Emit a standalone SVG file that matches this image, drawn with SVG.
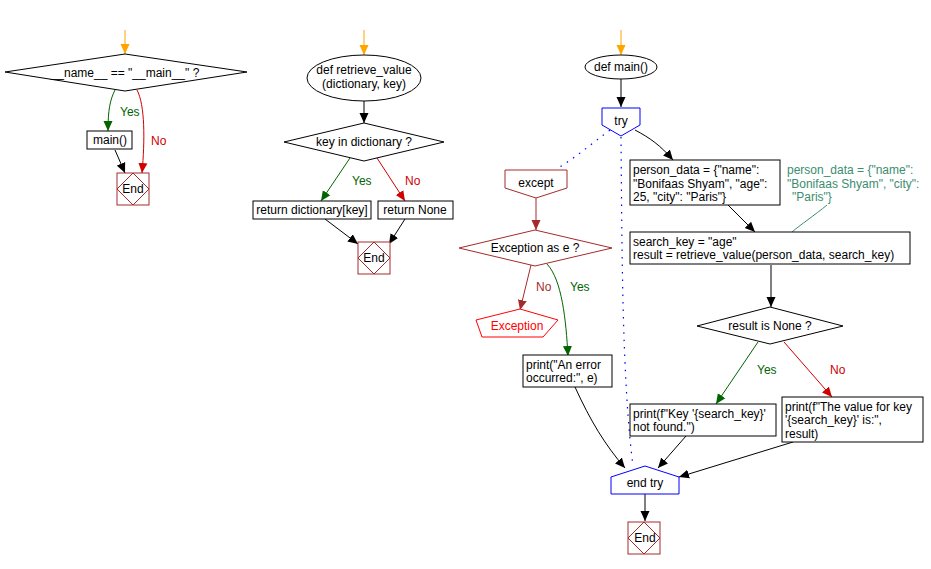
<svg xmlns="http://www.w3.org/2000/svg" width="931" height="569" viewBox="0 0 931 569">
<style>
text{font-family:"Liberation Sans",Arial,sans-serif;font-size:12px;fill:#000}
.c{text-anchor:middle}
.box{fill:#fff;stroke:#000;stroke-width:1}
.dec{fill:#fff;stroke:#000;stroke-width:1}
.endb{fill:#fff;stroke:#a52a2a;stroke-width:1}
.endd{fill:none;stroke:#a52a2a;stroke-width:1}
.blue{fill:#fff;stroke:#0000ff;stroke-width:1}
.brown{fill:#fff;stroke:#a52a2a;stroke-width:1}
.ln{fill:none;stroke:#000;stroke-width:1}
.g{fill:none;stroke:#006400;stroke-width:1}
.r{fill:none;stroke:#d00000;stroke-width:1}
.br{fill:none;stroke:#a52a2a;stroke-width:1}
.o{fill:none;stroke:#ffa500;stroke-width:1}
.cml{fill:none;stroke:#3c8c6e;stroke-width:1}
.dot{fill:none;stroke:#0000ff;stroke-width:1.2;stroke-dasharray:1.5 6}
.gt{fill:#006400}
.rt{fill:#d00000}
.brt{fill:#a52a2a}
.cm{fill:#3c8c6e}
</style>
<defs>
<marker id="ak" viewBox="0 0 10 10" refX="10" refY="5" markerWidth="10" markerHeight="10" markerUnits="userSpaceOnUse" orient="auto"><path d="M0,0.5 L10,5 L0,9.5 Z" fill="#000"/></marker>
<marker id="ag" viewBox="0 0 10 10" refX="10" refY="5" markerWidth="10" markerHeight="10" markerUnits="userSpaceOnUse" orient="auto"><path d="M0,0.5 L10,5 L0,9.5 Z" fill="#006400"/></marker>
<marker id="ar" viewBox="0 0 10 10" refX="10" refY="5" markerWidth="10" markerHeight="10" markerUnits="userSpaceOnUse" orient="auto"><path d="M0,0.5 L10,5 L0,9.5 Z" fill="#d00000"/></marker>
<marker id="ab" viewBox="0 0 10 10" refX="10" refY="5" markerWidth="10" markerHeight="10" markerUnits="userSpaceOnUse" orient="auto"><path d="M0,0.5 L10,5 L0,9.5 Z" fill="#a52a2a"/></marker>
<marker id="ao" viewBox="0 0 10 10" refX="10" refY="5" markerWidth="10" markerHeight="10" markerUnits="userSpaceOnUse" orient="auto"><path d="M0,0.5 L10,5 L0,9.5 Z" fill="#ffa500"/></marker>
</defs>

<g id="connectors">
<path class="o" d="M125,30 L125,54" marker-end="url(#ao)"/>
<path class="g" d="M115,90 C110,100 108,110 108,131" marker-end="url(#ag)"/>
<path class="r" d="M137,90 C145,105 145,140 142,173" marker-end="url(#ar)"/>
<path class="ln" d="M115,150 L125,173" marker-end="url(#ak)"/>
<path class="o" d="M364,30 L364,55" marker-end="url(#ao)"/>
<path class="ln" d="M364,101 L364,123" marker-end="url(#ak)"/>
<path class="g" d="M350,158 L321,201" marker-end="url(#ag)"/>
<path class="r" d="M377,158 L405,201" marker-end="url(#ar)"/>
<path class="ln" d="M325,219 L358,244" marker-end="url(#ak)"/>
<path class="ln" d="M405,219 L389,244" marker-end="url(#ak)"/>
<path class="o" d="M621,30 L621,55" marker-end="url(#ao)"/>
<path class="ln" d="M621,79 L621,107" marker-end="url(#ak)"/>
<path class="ln" d="M635,130 C650,138 660,145 673,160" marker-end="url(#ak)"/>
<path class="ln" d="M728,205 L755,232" marker-end="url(#ak)"/>
<path class="cml" d="M827,205 C815,215 800,225 792,232"/>
<path class="ln" d="M771,265 L771,307" marker-end="url(#ak)"/>
<path class="g" d="M758,342 L716,404" marker-end="url(#ag)"/>
<path class="r" d="M784,342 L832,397" marker-end="url(#ar)"/>
<path class="ln" d="M686,436 L658,468" marker-end="url(#ak)"/>
<path class="ln" d="M793,442 L679,477" marker-end="url(#ak)"/>
<path class="ln" d="M575,387 C590,420 605,445 625,468" marker-end="url(#ak)"/>
<path class="dot" d="M621,137 C622,250 622,380 633,466"/>
<path class="dot" d="M610,130 C590,145 575,158 558,168"/>
<path class="ln" d="M645,494 L645,521" marker-end="url(#ak)"/>
<path class="br" d="M536,198 L536,230" marker-end="url(#ab)"/>
<path class="br" d="M531,265 L520,310" marker-end="url(#ab)"/>
<path class="g" d="M547,264 C562,280 566,320 568,356" marker-end="url(#ag)"/>
</g>

<g id="n_ifmain">
<polygon class="dec" points="5,72 125,54 247,72 125,91"/>
<text class="c" x="125" y="77">__name__ == "__main__" ?</text>
</g>
<g id="n_main_call">
<rect class="box" x="87" y="131" width="45" height="18"/>
<text class="c" x="110" y="144">main()</text>
</g>
<g id="n_end1">
<rect class="endb" x="117" y="173" width="32" height="32"/>
<polygon class="endd" points="133,173 149,189 133,205 117,189"/>
<text class="c" x="133" y="193">End</text>
</g>
<text class="gt" x="120" y="116">Yes</text>
<text class="rt" x="151" y="145">No</text>

<g id="n_retrieve">
<ellipse class="box" cx="364" cy="78" rx="57" ry="23"/>
<text class="c" x="364" y="74">def retrieve_value</text>
<text class="c" x="364" y="88">(dictionary, key)</text>
</g>
<g id="n_keyin">
<polygon class="dec" points="284,142 364,123 444,142 364,161"/>
<text class="c" x="364" y="146">key in dictionary ?</text>
</g>
<g id="n_retdict">
<rect class="box" x="253" y="201" width="118" height="18"/>
<text class="c" x="312" y="214">return dictionary[key]</text>
</g>
<g id="n_retnone">
<rect class="box" x="378" y="201" width="75" height="18"/>
<text class="c" x="415" y="214">return None</text>
</g>
<g id="n_end2">
<rect class="endb" x="358" y="242" width="32" height="32"/>
<polygon class="endd" points="374,242 390,258 374,274 358,258"/>
<text class="c" x="374" y="262">End</text>
</g>
<text class="gt" x="352" y="185">Yes</text>
<text class="rt" x="405" y="185">No</text>

<g id="n_defmain">
<ellipse class="box" cx="621" cy="67" rx="36" ry="12"/>
<text class="c" x="621" y="71">def main()</text>
</g>
<g id="n_try">
<polygon class="blue" points="602,108 640,108 640,125 621,136 602,125"/>
<text class="c" x="621" y="125">try</text>
</g>
<g id="n_person">
<rect class="box" x="630" y="160" width="150" height="45"/>
<text x="633" y="174">person_data = {"name":</text>
<text x="633" y="188">"Bonifaas Shyam", "age":</text>
<text x="633" y="201">25, "city": "Paris"}</text>
</g>
<g id="n_comment">
<text class="cm" x="787" y="174">person_data = {"name":</text>
<text class="cm" x="787" y="188">"Bonifaas Shyam", "city":</text>
<text class="cm" x="792" y="201">"Paris"}</text>
</g>
<g id="n_search">
<rect class="box" x="630" y="232" width="280" height="32"/>
<text x="633" y="246">search_key = "age"</text>
<text x="633" y="259">result = retrieve_value(person_data, search_key)</text>
</g>
<g id="n_resnone">
<polygon class="dec" points="697,326 770,307 843,326 770,344"/>
<text class="c" x="770" y="330">result is None ?</text>
</g>
<g id="n_keynf">
<rect class="box" x="630" y="404" width="146" height="32"/>
<text x="633" y="418">print(f"Key '{search_key}'</text>
<text x="633" y="431">not found.")</text>
</g>
<g id="n_value">
<rect class="box" x="782" y="397" width="141" height="45"/>
<text x="785" y="411">print(f"The value for key</text>
<text x="785" y="424">'{search_key}' is:",</text>
<text x="785" y="438">result)</text>
</g>
<g id="n_endtry">
<polygon class="blue" points="611,477 645,466 679,477 679,494 611,494"/>
<text class="c" x="645" y="487">end try</text>
</g>
<g id="n_end3">
<rect class="endb" x="628" y="522" width="32" height="32"/>
<polygon class="endd" points="644,522 660,538 644,554 628,538"/>
<text class="c" x="645" y="542">End</text>
</g>
<text class="gt" x="757" y="374">Yes</text>
<text class="rt" x="830" y="374">No</text>

<g id="n_except">
<polygon class="brown" points="505,170 567,170 567,188 536,198 505,188"/>
<text class="c" x="536" y="187">except</text>
</g>
<g id="n_exc_as">
<polygon class="brown" points="459,248 535,230 612,248 535,266"/>
<text class="c" x="535" y="252">Exception as e ?</text>
</g>
<g id="n_exception">
<polygon fill="#fff" stroke="#ff0000" points="476,320 520,309 558,320 543,337 482,337"/>
<text class="c" x="517" y="330" style="fill:#ff0000">Exception</text>
</g>
<g id="n_error">
<rect class="box" x="523" y="355" width="89" height="32"/>
<text x="526" y="369">print("An error</text>
<text x="526" y="382">occurred:", e)</text>
</g>
<text class="brt" x="536" y="291">No</text>
<text class="gt" x="570" y="291">Yes</text>
</svg>
